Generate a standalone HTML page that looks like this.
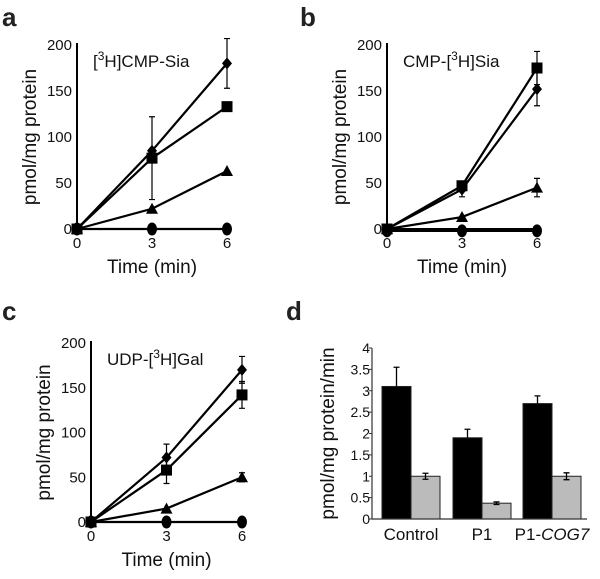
<!DOCTYPE html>
<html><head><meta charset="utf-8">
<style>
html,body{margin:0;padding:0;background:#fff;}
svg{display:block;font-family:"Liberation Sans",Arial,sans-serif;}
.tick{font-size:15px;fill:#111;}
.title{font-size:19px;fill:#111;}
.plabel{font-size:26px;font-weight:bold;fill:#222;}
</style></head>
<body>
<svg id="fig" width="600" height="579" viewBox="0 0 600 579">
<text class="plabel" x="2" y="26">a</text>
<text class="plabel" x="300" y="26">b</text>
<text class="plabel" x="2" y="320">c</text>
<text class="plabel" x="286" y="320">d</text>
</svg>
<script>
const times=[0,3,6];
const aDiamond=[0,85,180], aDiamondErr=[0,0,27];
const aSquare=[0,77,133], aSquareErr=[0,45,0];
const aTriangle=[0,22,63], aTriangleErr=[0,0,0];
const aCircle=[0,0,0];
const bSquare=[0,47,175], bSquareErr=[0,5,18];
const bDiamond=[0,43,152], bDiamondErr=[0,8,18];
const bTriangle=[0,13,45], bTriangleErr=[0,0,10];
const bCircle=[-2,-2,-2];
const cDiamond=[0,72,170], cDiamondErr=[0,15,15];
const cSquare=[0,58,142], cSquareErr=[0,15,15];
const cTriangle=[0,15,50], cTriangleErr=[0,0,5];
const cCircle=[0,0,0];
const yTicks=[0,50,100,150,200];
const xTicks=[0,3,6];
const dCategories=["Control","P1","P1-COG7"];
const dBlack=[3.1,1.9,2.7], dBlackErr=[0.45,0.2,0.18];
const dGray=[1.0,0.37,1.0], dGrayErr=[0.07,0.03,0.08];
const dTicks=["0","0.5","1","1.5","2","2.5","3","3.5","4"];

const NS="http://www.w3.org/2000/svg";
const svg=document.getElementById('fig');
function mk(tag,attrs,parent){const e=document.createElementNS(NS,tag);for(const k in attrs)e.setAttribute(k,attrs[k]);(parent||svg).appendChild(e);return e;}

function linePanel(cfg){
  const g=mk('g',{});
  
  
  const X=t=>cfg.x0+(cfg.x6-cfg.x0)*t/6;
  const Y=v=>cfg.y0-(cfg.y0-cfg.y200)*v/200;
  const ax=mk('path',{d:`M${cfg.x0} ${cfg.y200-2} V${cfg.y0} H${cfg.x6}`,stroke:'#000','stroke-width':2,fill:'none'},g);
  
  
  yTicks.forEach(v=>{const t=mk('text',{x:cfg.x0-5,y:Y(v)+5,'text-anchor':'end',class:'tick'},g);t.textContent=v;
    
    });
  xTicks.forEach(v=>{const t=mk('text',{x:X(v),y:cfg.y0+19,'text-anchor':'middle',class:'tick'},g);t.textContent=v;
    
    });
  const xt=mk('text',{x:(cfg.x0+cfg.x6)/2,y:cfg.y0+44,'text-anchor':'middle',class:'title'},g);xt.textContent='Time (min)';
  
  
  const cy=(cfg.y0+cfg.y200)/2;
  const tx=cfg.x0-41;
  const yt=mk('text',{x:tx,y:cy,'text-anchor':'middle',class:'title',transform:`rotate(-90 ${tx} ${cy})`},g);yt.textContent='pmol/mg protein';
  
  
  const lab=mk('text',{x:cfg.x0+16,y:cfg.y200+22,class:'title',style:'font-size:17px'},g);
  lab.innerHTML=cfg.label;
  
  
  cfg.series.forEach(s=>{
    const sg=mk('g',{},g);
    
    
    mk('polyline',{points:times.map((t,i)=>X(t)+','+Y(s.v[i])).join(' '),stroke:'#000','stroke-width':2.2,fill:'none'},sg);
    times.forEach((t,i)=>{
      const x=X(t),y=Y(s.v[i]);
      if(s.e&&s.e[i]>0){
        mk('path',{d:`M${x} ${Y(s.v[i]+s.e[i])} V${Y(s.v[i]-s.e[i])} M${x-3} ${Y(s.v[i]+s.e[i])} h6 M${x-3} ${Y(s.v[i]-s.e[i])} h6`,stroke:'#000','stroke-width':1.2,fill:'none'},sg);
      }
      let m;
      if(s.shape==='square') m=mk('rect',{x:x-5.5,y:y-5.5,width:11,height:11,fill:'#000'},sg);
      else if(s.shape==='diamond') m=mk('path',{d:`M${x} ${y-6} L${x+5} ${y} L${x} ${y+6} L${x-5} ${y}Z`,fill:'#000'},sg);
      else if(s.shape==='triangle') m=mk('path',{d:`M${x} ${y-6} L${x+6} ${y+5} L${x-6} ${y+5}Z`,fill:'#000'},sg);
      else m=mk('ellipse',{cx:x,cy:y,rx:5,ry:6.5,fill:'#000'},sg);
      
      
    });
  });
}
linePanel({name:'panel-a',x0:77,x6:227,y0:229,y200:45,label:'[<tspan baseline-shift="super" font-size="12">3</tspan>H]CMP-Sia',
  series:[{shape:'circle',v:aCircle},{shape:'triangle',v:aTriangle,e:aTriangleErr},{shape:'square',v:aSquare,e:aSquareErr},{shape:'diamond',v:aDiamond,e:aDiamondErr}]});
linePanel({name:'panel-b',x0:387,x6:537,y0:229,y200:45,label:'CMP-[<tspan baseline-shift="super" font-size="12">3</tspan>H]Sia',
  series:[{shape:'circle',v:bCircle},{shape:'triangle',v:bTriangle,e:bTriangleErr},{shape:'diamond',v:bDiamond,e:bDiamondErr},{shape:'square',v:bSquare,e:bSquareErr}]});
linePanel({name:'panel-c',x0:91,x6:242,y0:522,y200:343,label:'UDP-[<tspan baseline-shift="super" font-size="12">3</tspan>H]Gal',
  series:[{shape:'circle',v:cCircle},{shape:'triangle',v:cTriangle,e:cTriangleErr},{shape:'square',v:cSquare,e:cSquareErr},{shape:'diamond',v:cDiamond,e:cDiamondErr}]});

// panel d
(function(){
  const g=mk('g',{});
  
  
  const x0=372,x1=587,y0=519,y4=348;
  const Y=v=>y0-(y0-y4)*v/4;
  const groupX=[382,453,523], bw=29;
  dCategories.forEach((c,i)=>{
    const bx=groupX[i];
    [[dBlack,dBlackErr,'#000','black'],[dGray,dGrayErr,'#bbb','gray']].forEach((s,j)=>{
      const x=bx+j*bw, v=s[0][i], e=s[1][i];
      const r=mk('rect',{x:x,y:Y(v),width:bw,height:y0-Y(v),fill:s[2],stroke:'#222','stroke-width':1},g);
      
      
      const cx=x+bw/2;
      mk('path',{d:`M${cx} ${Y(v+e)} V${Y(j?v-e:v)} M${cx-3} ${Y(v+e)} h6`+(j?` M${cx-3} ${Y(v-e)} h6`:''),stroke:'#000','stroke-width':1.3,fill:'none'},g);
    });
    const t=mk('text',{x:bx+bw,y:y0+21,'text-anchor':'middle',class:'title',style:'font-size:17px'},g);
    if(c==='P1-COG7') t.innerHTML='P1-<tspan font-style="italic">COG7</tspan>'; else t.textContent=c;
    
    
  });
  const ax=mk('path',{d:`M${x0} ${y4} V${y0} H${x1}`,stroke:'#333','stroke-width':1.2,fill:'none'},g);
  
  
  dTicks.forEach((l,i)=>{
    const y=Y(i*0.5);
    mk('path',{d:`M${x0-3} ${y} H${x0}`,stroke:'#333','stroke-width':1},g);
    const t=mk('text',{x:x0-2,y:y+5,'text-anchor':'end',class:'tick',style:'font-size:14px'},g);t.textContent=l;
    
    
  });
  const cy=(y0+y4)/2;
  const tx=x0-38;
  const yt=mk('text',{x:tx,y:cy,'text-anchor':'middle',class:'title',transform:`rotate(-90 ${tx} ${cy})`},g);yt.textContent='pmol/mg protein/min';
  
  
})();
</script>
</body></html>
